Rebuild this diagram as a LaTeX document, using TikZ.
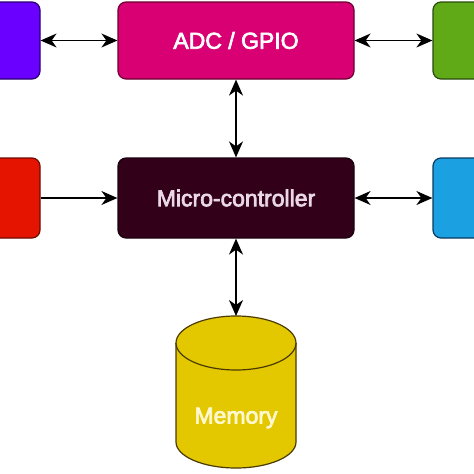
\documentclass[tikz,border=0pt]{standalone}
\usepackage{fontspec}
\setmainfont{Liberation Sans}
\newcommand{\heavytxt}[1]{\special{pdf:literal direct 2 Tr 0.7 w}#1\special{pdf:literal direct 0 Tr}}
\usetikzlibrary{arrows.meta}
\definecolor{pinkF}{HTML}{D80073}\definecolor{pinkS}{HTML}{6A0030}
\definecolor{purpF}{HTML}{6A00FF}\definecolor{purpS}{HTML}{2A0070}
\definecolor{grnF}{HTML}{60A917}\definecolor{grnS}{HTML}{2A4A10}
\definecolor{redF}{HTML}{E51400}\definecolor{redS}{HTML}{700A00}
\definecolor{bluF}{HTML}{1BA1E2}\definecolor{bluS}{HTML}{0A3A60}
\definecolor{mcF}{HTML}{33001A}\definecolor{mcS}{HTML}{1A000D}
\definecolor{ylwF}{HTML}{E3C800}\definecolor{ylwS}{HTML}{4A3A00}
\definecolor{mcT}{HTML}{EAD8E4}\definecolor{memT}{HTML}{FFF8D0}
\tikzset{
  lbl/.style={font=\fontsize{23}{27}\selectfont},
  blk/.style={rectangle, rounded corners=8pt, line width=1.2pt, minimum height=77pt, inner sep=0pt, lbl},
  bigblk/.style={blk, minimum width=236pt},
  sideblk/.style={blk, minimum width=80pt},
  conn/.style={line width=1.4pt, draw=black},
  both/.style={conn, {Stealth[length=16pt,width=14pt,inset=5pt]}-{Stealth[length=16pt,width=14pt,inset=5pt]}},
  one/.style={conn, -{Stealth[length=16pt,width=14pt,inset=5pt]}},
}
\begin{document}
\begin{tikzpicture}[x=1pt,y=-1pt]
\useasboundingbox (0,0) rectangle (474,474);
\clip (0,0) rectangle (474,474);
\node[bigblk, fill=pinkF, draw=pinkS, text=white] (adc) at (236,40.5) {\heavytxt{ADC / GPIO}};
\node[bigblk, fill=mcF, draw=mcS, text=mcT, minimum height=80pt] (mc) at (236,198) {\heavytxt{Micro-controller}};
\node[sideblk, fill=purpF, draw=purpS] (purp) at (0,40.5) {};
\node[sideblk, fill=grnF, draw=grnS] (grn) at (473,40.5) {};
\node[sideblk, fill=redF, draw=redS, minimum height=80pt] (red) at (0,198) {};
\node[sideblk, fill=bluF, draw=bluS, minimum height=80pt] (blu) at (473,198) {};
% memory cylinder
\draw[fill=ylwF, draw=ylwS, line width=1.2pt]
  (176,343) -- (176,442) arc[start angle=180, end angle=360, x radius=60, y radius=-26]
  -- (296,343) arc[start angle=0, end angle=180, x radius=60, y radius=-27] -- cycle;
\draw[draw=ylwS, line width=1.2pt]
  (176,343) arc[start angle=180, end angle=360, x radius=60, y radius=-27];
\coordinate (memtop) at (236,316);
\node[lbl, text=memT] (mem) at (236,418) {\heavytxt{Memory}};
% connectors
\draw[both] (purp.east) -- (adc.west);
\draw[both] (adc.east) -- (grn.west);
\draw[one] (red.east) -- (mc.west);
\draw[both] (mc.east) -- (blu.west);
\draw[both] (adc.south) -- (mc.north);
\draw[both] (mc.south) -- (memtop);
\end{tikzpicture}
\end{document}
